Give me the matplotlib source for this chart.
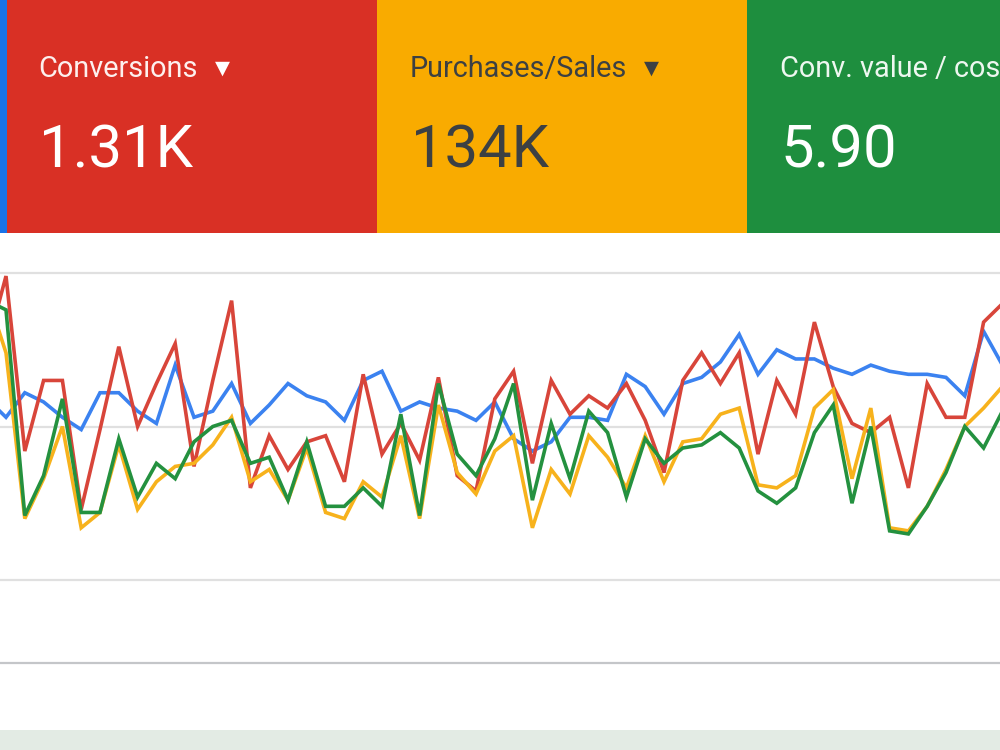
import numpy as np
import matplotlib
matplotlib.use("Agg")
import matplotlib.pyplot as plt
from matplotlib.patches import Rectangle

plt.rcParams['font.family'] = ['Roboto', 'DejaVu Sans']

# ---- data (index -1 .. 53; chart scale 0..100) ----
card_labels = ["Conversions", "Purchases/Sales", "Conv. value / cost"]
card_values = ["1.31K", "134K", "5.90"]

day_index = list(range(-1, 54))

series_blue = [59, 53, 61, 58, 53, 49, 61, 61, 55, 51,
               70, 53, 55, 64, 51, 57, 64, 60, 58, 52,
               65, 68, 55, 58, 56, 55, 52, 58, 46, 42,
               45, 53, 53, 52, 67, 63, 54, 64, 66, 71,
               80, 67, 75, 72, 72, 69, 67, 70, 68, 67,
               67, 66, 60, 81, 70]

conversions = [76, 99, 42, 65, 65, 23, 49, 76, 50, 64,
               77, 37, 65, 91, 30, 47, 36, 45, 47, 32,
               67, 41, 51, 39, 66, 34, 29, 59, 68, 38,
               65, 54, 60, 56, 64, 52, 35, 65, 74, 64,
               74, 41, 65, 54, 84, 63, 51, 48, 53, 30,
               64, 53, 53, 84, 90]

purchases = [93, 74, 20, 33, 50, 17, 22, 44, 23, 32,
             37, 38, 44, 53, 32, 36, 26, 43, 22, 20,
             32, 27, 47, 20, 57, 35, 28, 42, 47, 17,
             36, 28, 47, 40, 30, 47, 32, 45, 46, 54,
             56, 31, 30, 34, 56, 62, 33, 56, 17, 16,
             24, 36, 50, 56, 63]

conv_value_cost = [91, 88, 21, 34, 59, 22, 22, 46, 27, 38,
                   33, 45, 50, 52, 38, 40, 26, 45, 24, 24,
                   30, 24, 54, 21, 64, 41, 34, 46, 64, 26,
                   51, 33, 55, 48, 27, 46, 38, 43, 44, 48,
                   43, 29, 25, 30, 48, 57, 25, 50, 16, 15,
                   24, 35, 50, 43, 55]

grid_values = [0, 50, 100]

# ---- colours ----
BLUE = "#1a73e8"
LINE_BLUE = "#3b82f0"
RED = "#d93025"
LINE_RED = "#d8453a"
YELLOW = "#f9ab00"
LINE_YELLOW = "#f7b21c"
GREEN = "#1e8e3e"
LINE_GREEN = "#24913f"

W, H = 1000, 750
fig = plt.figure(figsize=(10, 7.5), dpi=100)
fig.patch.set_facecolor("white")

def fx(px):
    return px / W

def fy(py):
    return 1 - py / H

# header cards
card_top = 0
card_bottom = 233
cards = [(0, 7, BLUE), (7, 377, RED), (377, 747, YELLOW), (747, 1000, GREEN)]
for x0, x1, c in cards:
    fig.patches.append(Rectangle((fx(x0), fy(card_bottom)), fx(x1 - x0), (card_bottom - card_top) / H,
                                 transform=fig.transFigure, facecolor=c, edgecolor="none", zorder=0))

# bottom band
fig.patches.append(Rectangle((0, 0), 1, 20 / H, transform=fig.transFigure,
                             facecolor="#e3ebe4", edgecolor="none", zorder=0))

text_colors = ["#fdf0ee", "#3c4043", "#eef7f0"]
value_colors = ["white", "#3c4043", "white"]
label_x = [38, 410, 780]
for lab, val, lx, tc, vc in zip(card_labels, card_values, label_x, text_colors, value_colors):
    fig.text(fx(lx), fy(77), lab, fontsize=20.8, color=tc, ha="left", va="baseline",
             family=['Roboto', 'DejaVu Sans'])
    fig.text(fx(lx + 1), fy(168), val, fontsize=43, color=vc, ha="left", va="baseline",
             family=['Roboto', 'DejaVu Sans'])

# dropdown triangles
for tx, c in [(222, "white"), (651, "#3c4043")]:
    fig.text(fx(tx), fy(68), "\u25BC", fontsize=14, color=c, ha="center", va="center",
             family=['DejaVu Sans'])

# chart axes: pixel rows 240..725
top_px, bot_px = 240, 725
ax = fig.add_axes([0, fy(bot_px), 1, (bot_px - top_px) / H])
px_per_unit = (580 - 273) / 100.0
ax.set_ylim((580 - bot_px) / px_per_unit, (580 - top_px) / px_per_unit)
step = 18.8
ax.set_xlim(-6 / step, (1000 - 6) / step)
ax.set_facecolor("none")
for s in ax.spines.values():
    s.set_visible(False)
ax.set_xticks([])
ax.set_yticks(grid_values)
ax.set_yticklabels([])
ax.tick_params(left=False)
ax.grid(axis="y", color="#e0e0e0", linewidth=1.6)
ax.set_axisbelow(True)
ax.axhline((580 - 663) / px_per_unit, color="#c4c6c9", linewidth=1.6, zorder=1)

x = np.array(day_index)
lw = 2.6
ax.plot(x, series_blue, color=LINE_BLUE, lw=lw, zorder=3, solid_joinstyle="miter")
ax.plot(x, conversions, color=LINE_RED, lw=lw, zorder=4, solid_joinstyle="miter")
ax.plot(x, purchases, color=LINE_YELLOW, lw=lw, zorder=5, solid_joinstyle="miter")
ax.plot(x, conv_value_cost, color=LINE_GREEN, lw=lw, zorder=6, solid_joinstyle="miter")

fig.savefig("out.png", dpi=100)
